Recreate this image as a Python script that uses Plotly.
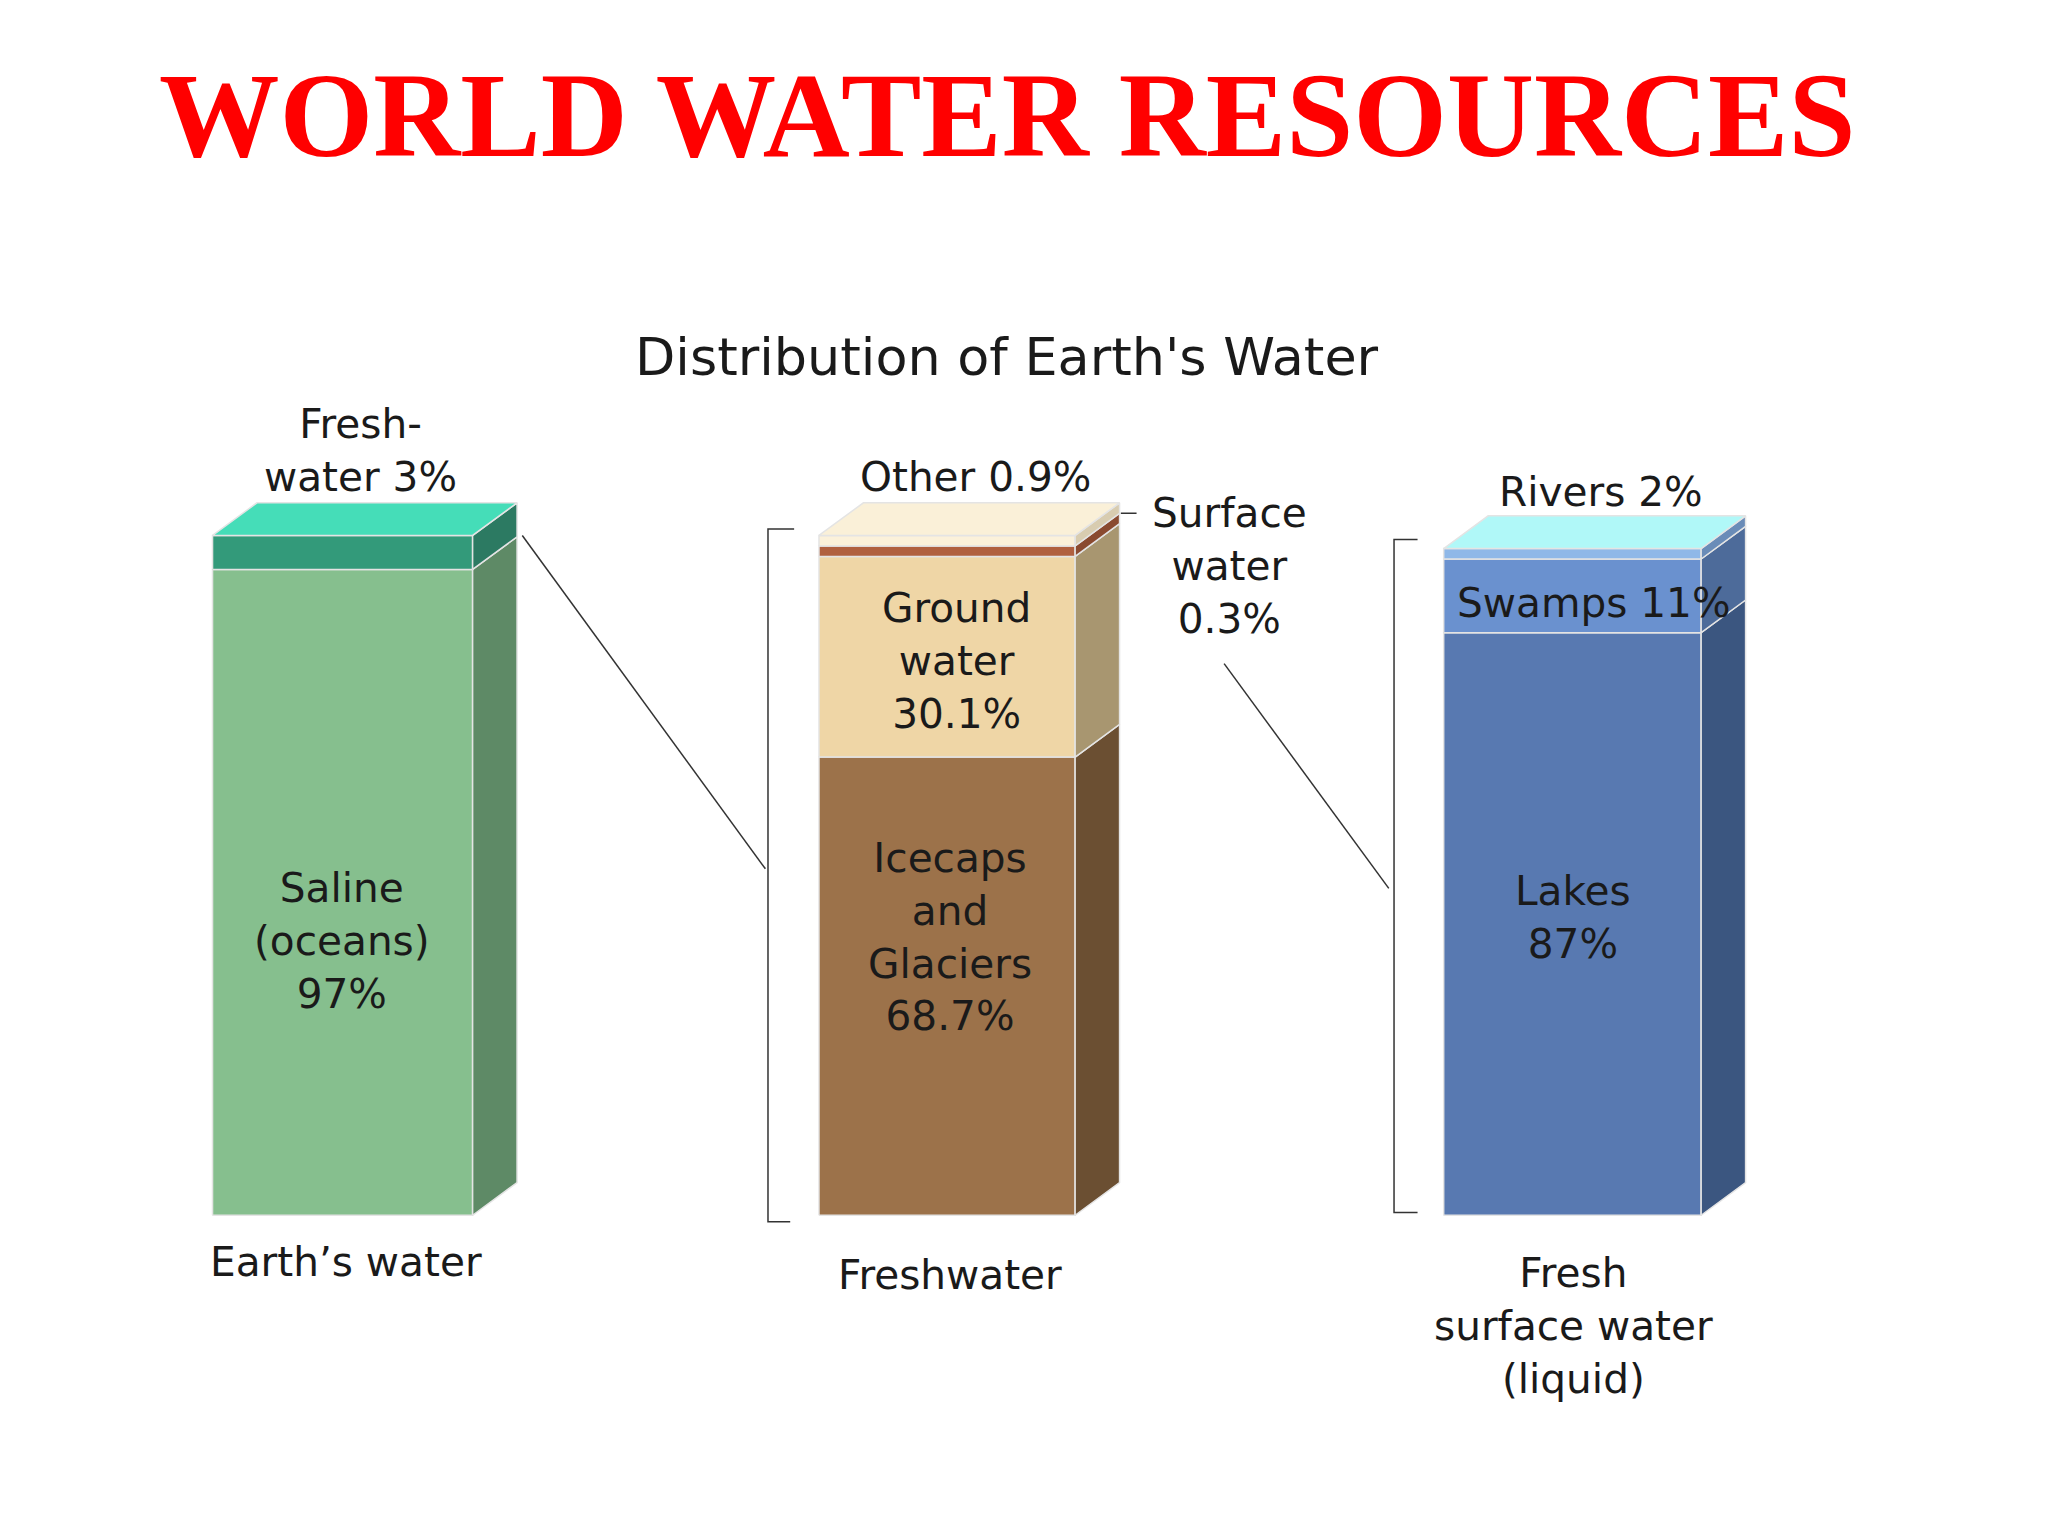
import plotly.graph_objects as go

# ---- data ----
bar_names = ["Earth’s water", "Freshwater", "Fresh<br>surface water<br>(liquid)"]
earth_segments = ["Saline", "Freshwater"]
earth_values = [97, 3]
fresh_segments = ["Icecaps and Glaciers", "Ground water", "Surface water", "Other"]
fresh_values = [68.7, 30.1, 0.3, 0.9]
surface_segments = ["Lakes", "Swamps", "Rivers"]
surface_values = [87, 11, 2]

# ---- style / layout (display coordinate space 1552 x 1164, y down) ----
BOTTOM, DX, DY = 930, 34, 25
bars = [
    dict(x0=163, x1=362, h=520, vals=earth_values, minh=26,
         front=["#86BF8E", "#339A7A"], side=["#5E8A66", "#2C7A62"], top="#45DDB8"),
    dict(x0=627, x1=823, h=520, vals=fresh_values, minh=8,
         front=["#9C724A", "#EFD6A6", "#B0603F", "#FBF1DA"],
         side=["#6B4F32", "#A89670", "#8A4A30", "#D8CCB0"], top="#FAF0D8"),
    dict(x0=1105, x1=1302, h=510, vals=surface_values, minh=8,
         front=["#5879B1", "#6A91CF", "#8FB8E8"],
         side=["#3B5680", "#4D6B9A", "#6A8CB8"], top="#B0F8F8"),
]

fig = go.Figure()

def poly(xs, ys, color, line="#E4E4E4"):
    fig.add_trace(go.Scatter(x=xs + [xs[0]], y=ys + [ys[0]], mode="lines", fill="toself",
                             fillcolor=color, line=dict(color=line, width=1.5),
                             hoverinfo="skip", showlegend=False))

for b in bars:
    vals = b["vals"]
    small = [v < 5 for v in vals]
    fixed = sum(b["minh"] for s in small if s)
    big_total = sum(v for v, s in zip(vals, small) if not s)
    hs = [b["minh"] if s else v / big_total * (b["h"] - fixed) for v, s in zip(vals, small)]
    y = BOTTOM
    for h, fc, sc in zip(hs, b["front"], b["side"]):
        y0, y1 = y, y - h
        poly([b["x0"], b["x1"], b["x1"], b["x0"]], [y0, y0, y1, y1], fc)
        poly([b["x1"], b["x1"] + DX, b["x1"] + DX, b["x1"]], [y0, y0 - DY, y1 - DY, y1], sc)
        y = y1
    poly([b["x0"], b["x1"], b["x1"] + DX, b["x0"] + DX], [y, y, y - DY, y - DY], b["top"])

lines = [
    ([400, 586], [410, 665]),
    ([608, 588, 588, 605], [405, 405, 935, 935]),
    ([937, 1063], [508, 680]),
    ([1085, 1067, 1067, 1085], [413, 413, 928, 928]),
    ([858, 870], [393, 393]),
]
for xs, ys in lines:
    fig.add_trace(go.Scatter(x=xs, y=ys, mode="lines", line=dict(color="#333333", width=1.5),
                             hoverinfo="skip", showlegend=False))

S = 1.31
def txt(x, y, t, size, color="#1a1a1a", font="DejaVu Sans", **kw):
    fig.add_annotation(x=x, y=y, text=t, showarrow=False, xref="x", yref="y",
                       font=dict(family=font, size=size * S, color=color), **kw)

txt(771, 89, "<b>WORLD WATER RESOURCES</b>", 92, color="#FF0000", font="Liberation Serif")
txt(771, 273, "Distribution of Earth's Water", 40)
L = 31
txt(276, 345, "Fresh-<br>water 3%", L)
txt(262, 720, f"Saline<br>(oceans)<br>{earth_values[0]}%", L)
txt(265, 966, bar_names[0], L)
txt(747, 365, f"Other {fresh_values[3]}%", L)
txt(732, 506, f"Ground<br>water<br>{fresh_values[1]}%", L)
txt(727, 717, f"Icecaps<br>and<br>Glaciers<br>{fresh_values[0]}%", L)
txt(727, 976, bar_names[1], L)
txt(941, 433, f"Surface<br>water<br>{fresh_values[2]}%", L)
txt(1225, 377, f"Rivers {surface_values[2]}%", L)
txt(1220, 462, f"Swamps {surface_values[1]}%", L)
txt(1204, 702, f"Lakes<br>{surface_values[0]}%", L)
txt(1204, 1015, bar_names[2], L)

fig.update_layout(width=2048, height=1536, margin=dict(l=0, r=0, t=0, b=0),
                  plot_bgcolor="white", paper_bgcolor="white",
                  xaxis=dict(range=[6.5, 1573.5], visible=False),
                  yaxis=dict(range=[1181.5, 6.5], visible=False))
fig.write_html("out.html")
